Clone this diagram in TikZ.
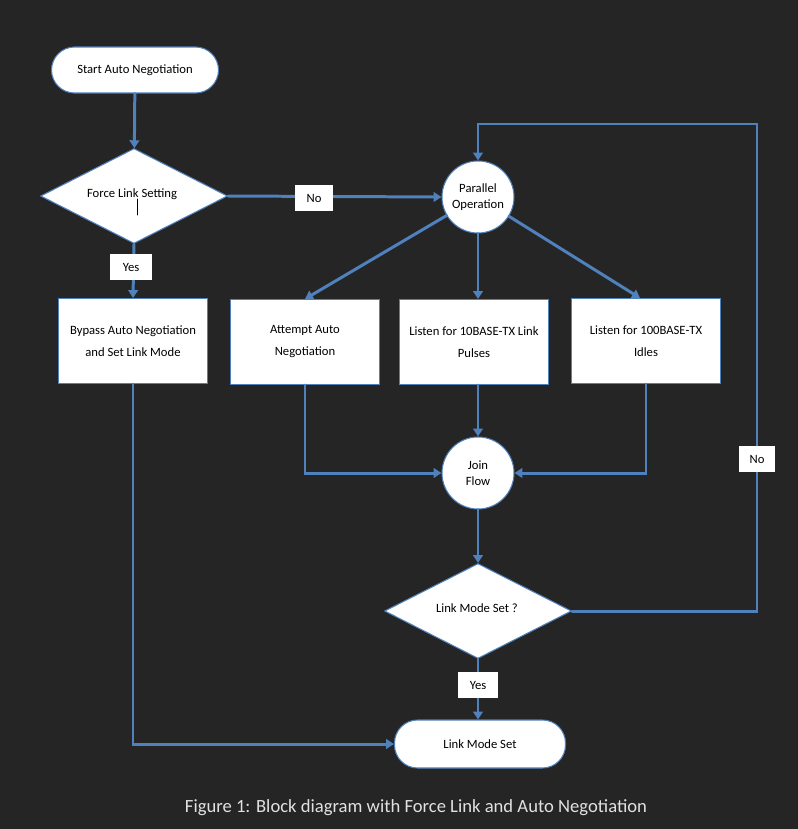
\documentclass[tikz,border=0pt]{standalone}
\usepackage{fontspec}
\setmainfont{Carlito}
\usetikzlibrary{arrows.meta,shapes.geometric}
\usepackage{xcolor}
\definecolor{bgdark}{RGB}{37,37,37}
\definecolor{flowblue}{RGB}{79,129,189}
\definecolor{captiongray}{RGB}{225,225,225}

\begin{document}
\begin{tikzpicture}[x=0.02cm,y=-0.02cm,>={Triangle[length=4.5pt,width=5.5pt]},
  font=\fontsize{7.2}{12.5}\selectfont,line cap=round,
  flow/.style={flowblue,line width=1.7pt,->},
  box/.style={draw=flowblue,fill=white,line width=0.6pt,minimum width=2.98cm,minimum height=1.7cm,align=center,inner sep=0pt},
  pill/.style={draw=flowblue,fill=white,line width=0.6pt,rounded corners=0.46cm,inner sep=0pt},
  decide/.style={diamond,draw=flowblue,fill=white,line width=0.6pt,aspect=2,minimum width=3.74cm,minimum height=1.9cm,inner sep=0pt},
  round/.style={circle,draw=flowblue,fill=white,line width=0.6pt,minimum size=1.44cm,inner sep=0pt,align=center,font=\fontsize{7.2}{9}\selectfont},
  tag/.style={fill=white,inner sep=0pt,minimum height=0.51cm}]
\useasboundingbox (0,0) rectangle (798,829);
\fill[bgdark] (0,0) rectangle (798,829);

% nodes
\node[pill,minimum width=3.34cm,minimum height=0.92cm] (start) at (135,70) {Start Auto Negotiation};
\node[decide] (force) at (134,196) {};
\node (forcetxt) at (132,194) {Force Link Setting};
\node[box] (bypass) at (133,341) {Bypass Auto Negotiation\\and Set Link Mode};
\node[round] (par) at (478,197) {Parallel\\Operation};
\node[box] (att) at (305,342) {Attempt Auto\\Negotiation};
\node[box] (ten) at (474,342) {Listen for 10BASE-TX Link\\Pulses};
\node[box] (hund) at (646,341) {Listen for 100BASE-TX\\Idles};
\node[round] (join) at (478,473) {Join\\Flow};
\node[decide] (lms) at (478,611) {};
\node (lmstxt) at (477,608) {Link Mode Set ?};
\node[pill,minimum width=3.42cm,minimum height=0.96cm] (done) at (480,744) {Link Mode Set};
\coordinate (loop) at (757,124);

% connectors
\draw[flow] (start) -- (force);
\draw[flow] (force.south) -- (bypass.north);
\draw[flow] (force.east) -- (par.west);
\draw[flow] (bypass.south) |- (done.west);
\draw[flow] (par) -- (att.north);
\draw[flow] (par) -- (ten.north -| par);
\draw[flow] (par) -- ([xshift=-0.12cm]hund.north);
\draw[flow] (att.south) |- (join.west);
\draw[flow] (ten.south -| join) -- (join.north);
\draw[flow] (hund.south) |- (join.east);
\draw[flow] (join.south) -- (lms.north);
\draw[flow] (lms.east) -| (loop) -| (par.north);
\draw[flow] (lms.south) -- (done.north -| lms);

% labels
\node[tag,minimum width=0.76cm] (no1) at (314,198) {No};
\node[tag,minimum width=0.86cm] (yes1) at (131,267) {Yes};
\node[tag,minimum width=0.72cm] (no2) at (757,459) {No};
\node[tag,minimum width=0.82cm] (yes2) at (478,685) {Yes};
\draw[black,line width=0.5pt] (137,199) -- (137,215);

\node[captiongray,font=\fontsize{10.6}{12}\selectfont] (caption) at (416,808) {Figure 1: Block diagram with Force Link and Auto Negotiation};
\end{tikzpicture}
\end{document}
